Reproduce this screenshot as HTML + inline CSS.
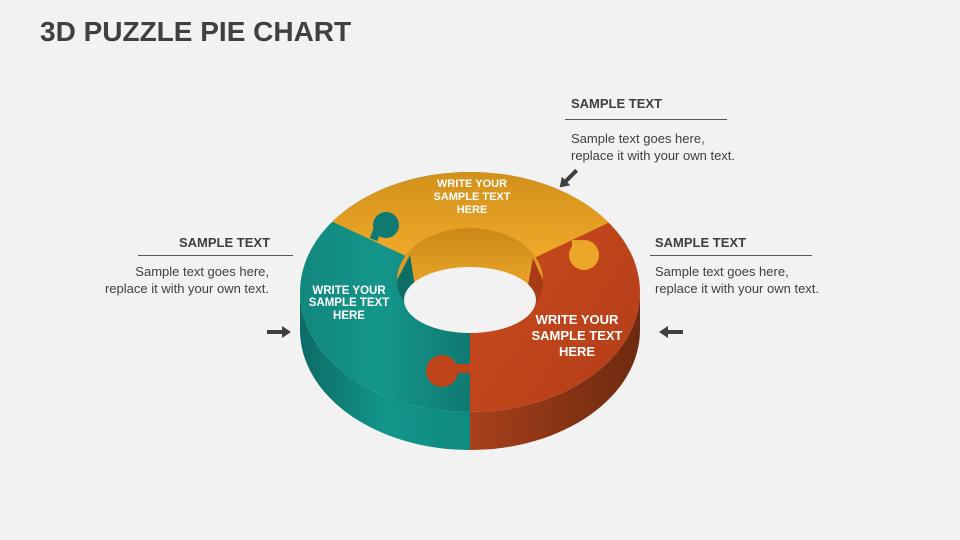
<!DOCTYPE html>
<html><head><meta charset="utf-8"><style>
body{margin:0;width:960px;height:540px;background:#f2f2f2;font-family:"Liberation Sans",sans-serif;overflow:hidden;position:relative}
.t{position:absolute;color:#3f3f3f}
h1{position:absolute;left:40px;top:16px;margin:0;font-size:28px;font-weight:bold;color:#404040;letter-spacing:0px}
.hd{font-weight:bold;font-size:13px}
.bd{font-size:13px;line-height:17px}
.ln{position:absolute;height:1px;background:#555}
</style></head><body>
<h1>3D PUZZLE PIE CHART</h1>
<div class="t hd" style="left:571px;top:96px">SAMPLE TEXT</div>
<div class="ln" style="left:565px;top:119px;width:162px"></div>
<div class="t bd" style="left:571px;top:130px">Sample text goes here,<br>replace it with your own text.</div>
<div class="t hd" style="left:179px;top:235px">SAMPLE TEXT</div>
<div class="ln" style="left:138px;top:255px;width:155px"></div>
<div class="t bd" style="left:90px;width:179px;top:263px;text-align:right">Sample text goes here,<br>replace it with your own text.</div>
<div class="t hd" style="left:655px;top:235px">SAMPLE TEXT</div>
<div class="ln" style="left:650px;top:255px;width:162px"></div>
<div class="t bd" style="left:655px;top:263px">Sample text goes here,<br>replace it with your own text.</div>
<svg width="960" height="540" style="position:absolute;left:0;top:0">
<defs>
<linearGradient id="ts" x1="0" x2="1"><stop offset="0" stop-color="#0c6b64"/><stop offset="0.5" stop-color="#13958a"/><stop offset="1" stop-color="#108a80"/></linearGradient>
<linearGradient id="rs" x1="0" x2="1"><stop offset="0" stop-color="#a8401b"/><stop offset="1" stop-color="#6e2a10"/></linearGradient>
<linearGradient id="tt" x1="0" x2="1"><stop offset="0" stop-color="#12857c"/><stop offset="0.5" stop-color="#14968a"/><stop offset="1" stop-color="#0f7a72"/></linearGradient>
<linearGradient id="rt" x1="0" x2="1" y1="0" y2="1"><stop offset="0" stop-color="#cf4c1e"/><stop offset="1" stop-color="#b13d18"/></linearGradient>
<linearGradient id="yt" x1="0" x2="0" y1="0" y2="1"><stop offset="0" stop-color="#c98a17"/><stop offset="1" stop-color="#f0aa2a"/></linearGradient>
<linearGradient id="yi" x1="0" x2="0" y1="0" y2="1"><stop offset="0" stop-color="#c98915"/><stop offset="0.6" stop-color="#eca72b"/></linearGradient>
<clipPath id="oc"><ellipse cx="470" cy="292" rx="170" ry="120"/></clipPath>
</defs>
<path d="M300 292 A170 120 0 0 0 470 412 L470 450 A170 120 0 0 1 300 330 Z" fill="url(#ts)"/>
<path d="M470 412 A170 120 0 0 0 640 292 L640 330 A170 120 0 0 1 470 450 Z" fill="url(#rs)"/>
<g clip-path="url(#oc)">
<rect x="290" y="160" width="180" height="260" fill="url(#tt)"/>
<rect x="470" y="160" width="180" height="260" fill="url(#rt)"/>
<polygon points="250,150 250,205 333,222 410,258 530,260 610,222 700,205 700,150" fill="url(#yt)"/>
</g>
<ellipse cx="470" cy="280" rx="73" ry="52" fill="url(#yi)"/>
<path d="M397 280 A73 52 0 0 0 420 318 L410 255 Z" fill="#0d6e66"/>
<path d="M543 280 A73 52 0 0 1 522 318 L533 258 Z" fill="#a83a16"/>
<ellipse cx="470" cy="300" rx="66" ry="33" fill="#f2f2f2"/>
<rect x="372" y="226" width="8" height="14" fill="#0f7a72" transform="rotate(20 376 233)"/>
<circle cx="386" cy="225" r="13" fill="#0f7a72"/>
<rect x="572" y="240" width="8" height="12" fill="#eca72b"/>
<circle cx="584" cy="255" r="15" fill="#eca72b"/>
<rect x="452" y="364" width="18" height="9" fill="#c0441a"/>
<circle cx="442" cy="371" r="16" fill="#c0441a"/>
<g font-family="Liberation Sans,sans-serif" font-weight="bold" fill="#fff" text-anchor="middle">
<text x="472" y="187" font-size="11">WRITE YOUR</text>
<text x="472" y="200" font-size="11">SAMPLE  TEXT</text>
<text x="472" y="213" font-size="11">HERE</text>
<text x="349" y="294" font-size="11.5">WRITE YOUR</text>
<text x="349" y="306" font-size="11.5">SAMPLE TEXT</text>
<text x="349" y="319" font-size="11.5">HERE</text>
<text x="577" y="324" font-size="13">WRITE YOUR</text>
<text x="577" y="340" font-size="13">SAMPLE TEXT</text>
<text x="577" y="356" font-size="13">HERE</text>
</g>
<g fill="#3f3f3f">
<polygon points="267,330 282,330 282,326 291,332 282,338 282,334 267,334"/>
<polygon points="683,330 668,330 668,326 659,332 668,338 668,334 683,334"/>
<g transform="rotate(-45 571 176)"><polygon points="563,174 578,174 578,170 587,176 578,182 578,178 563,178" transform="rotate(180 571 176)"/></g>
</g>
</svg>
</body></html>
